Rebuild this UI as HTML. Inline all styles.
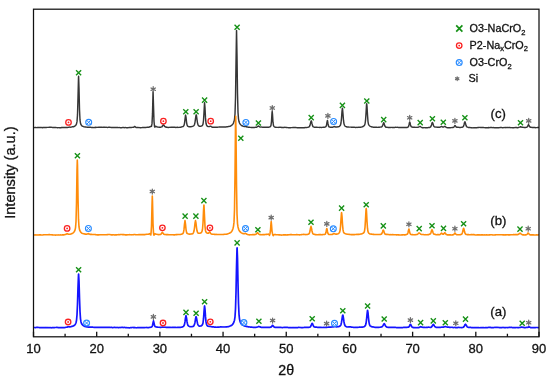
<!DOCTYPE html>
<html><head><meta charset="utf-8"><style>
html,body{margin:0;padding:0;background:#fff;}
body{width:550px;height:380px;overflow:hidden;}
svg{display:block;font-family:"Liberation Sans",Arial,sans-serif;}
text{stroke:#111;stroke-width:0.3px;paint-order:stroke;}
.gx{stroke:#159016;stroke-width:1.35;fill:none;}
.ro{stroke:#fa2222;stroke-width:1.3;fill:none;}
.rd{fill:#fa2222;}
.bo{stroke:#2a8cff;stroke-width:1.15;fill:none;}
.bx{stroke:#2a8cff;stroke-width:1.0;fill:none;}
.gs{stroke:#6e6e6e;stroke-width:1.25;fill:none;stroke-linecap:round;}
.tl{font-size:13px;text-anchor:middle;fill:#111;}
</style></head><body>
<svg width="550" height="380" viewBox="0 0 550 380">
<rect width="550" height="380" fill="#fff"/>
<path d="M33.50,127.51L34.00,127.58 34.50,127.64 35.00,127.58 35.50,127.58 36.00,127.57 36.50,127.60 37.00,127.65 37.50,127.56 38.00,127.47 38.50,127.55 39.00,127.54 39.50,127.59 40.00,127.49 40.50,127.49 41.00,127.54 41.50,127.49 42.00,127.59 42.50,127.67 43.00,127.56 43.50,127.47 44.00,127.49 44.50,127.58 45.00,127.56 45.50,127.50 46.00,127.49 46.50,127.41 47.00,127.37 47.50,127.38 48.00,127.40 48.50,127.36 49.00,127.33 49.50,127.30 50.00,127.32 50.50,127.31 51.00,127.24 51.50,127.34 52.00,127.38 52.50,127.43 53.00,127.38 53.50,127.49 54.00,127.57 54.50,127.49 55.00,127.46 55.50,127.51 56.00,127.55 56.50,127.63 57.00,127.60 57.50,127.66 58.00,127.67 58.50,127.61 59.00,127.61 59.50,127.67 60.00,127.72 60.50,127.69 61.00,127.68 61.50,127.56 62.00,127.49 62.50,127.54 63.00,127.51 63.50,127.43 64.00,127.44 64.50,127.47 65.00,127.49 65.50,127.44 66.00,127.42 66.50,127.40 67.00,127.44 67.50,127.41 68.00,127.36 68.50,127.33 69.00,127.20 69.50,127.09 70.00,127.11 70.50,127.17 71.00,127.13 71.50,127.04 72.00,126.90 72.50,126.81 73.00,126.80 73.50,126.70 74.00,126.51 74.50,126.33 75.00,125.93 75.50,125.48 76.00,124.91 76.50,123.88 77.00,121.67 77.50,114.90 78.00,97.50 78.50,77.34 78.60,76.32 79.00,88.04 79.50,109.51 80.00,119.95 80.50,123.32 81.00,124.67 81.50,125.40 82.00,125.90 82.50,126.23 83.00,126.39 83.50,126.66 84.00,126.82 84.50,126.87 85.00,126.97 85.50,127.05 86.00,127.08 86.50,127.11 87.00,127.17 87.50,127.24 88.00,127.29 88.50,127.31 89.00,127.24 89.50,127.22 90.00,127.19 90.50,127.24 91.00,127.35 91.50,127.43 92.00,127.50 92.50,127.56 93.00,127.51 93.50,127.58 94.00,127.61 94.50,127.51 95.00,127.42 95.50,127.33 96.00,127.41 96.50,127.37 97.00,127.31 97.50,127.36 98.00,127.35 98.50,127.29 99.00,127.25 99.50,127.29 100.00,127.26 100.50,127.24 101.00,127.32 101.50,127.34 102.00,127.33 102.50,127.35 103.00,127.28 103.50,127.29 104.00,127.30 104.50,127.27 105.00,127.23 105.50,127.34 106.00,127.37 106.50,127.34 107.00,127.38 107.50,127.47 108.00,127.38 108.50,127.31 109.00,127.26 109.50,127.34 110.00,127.30 110.50,127.37 111.00,127.43 111.50,127.45 112.00,127.41 112.50,127.52 113.00,127.59 113.50,127.59 114.00,127.53 114.50,127.56 115.00,127.54 115.50,127.56 116.00,127.52 116.50,127.55 117.00,127.46 117.50,127.43 118.00,127.54 118.50,127.62 119.00,127.57 119.50,127.64 120.00,127.59 120.50,127.68 121.00,127.71 121.50,127.67 122.00,127.61 122.50,127.50 123.00,127.59 123.50,127.49 124.00,127.56 124.50,127.65 125.00,127.65 125.50,127.57 126.00,127.64 126.50,127.72 127.00,127.74 127.50,127.72 128.00,127.67 128.50,127.62 129.00,127.55 129.50,127.58 130.00,127.56 130.50,127.49 131.00,127.41 131.50,127.44 132.00,127.40 132.50,127.39 133.00,127.34 133.50,127.33 134.00,127.13 134.50,126.57 134.70,126.44 135.00,126.57 135.50,127.14 136.00,127.42 136.50,127.45 137.00,127.42 137.50,127.47 138.00,127.54 138.50,127.63 139.00,127.58 139.50,127.65 140.00,127.66 140.50,127.63 141.00,127.71 141.50,127.62 142.00,127.64 142.50,127.53 143.00,127.45 143.50,127.52 144.00,127.44 144.50,127.48 145.00,127.47 145.50,127.51 146.00,127.44 146.50,127.37 147.00,127.28 147.50,127.31 148.00,127.26 148.50,127.26 149.00,127.22 149.50,126.98 150.00,126.78 150.50,126.44 151.00,126.44 151.50,126.38 152.00,123.63 152.50,113.66 153.00,92.95 153.10,91.67 153.50,105.41 154.00,121.34 154.50,126.30 154.70,127.08 155.00,127.04 155.50,126.32 156.00,126.41 156.50,126.72 157.00,126.89 157.50,127.08 158.00,127.14 158.50,127.14 159.00,127.23 159.50,127.31 160.00,127.20 160.50,127.22 161.00,127.10 161.50,126.92 162.00,126.72 162.50,125.99 163.00,125.06 163.40,124.80 163.50,124.82 164.00,125.47 164.50,126.27 165.00,126.74 165.50,127.03 166.00,127.06 166.50,127.21 167.00,127.23 167.50,127.36 168.00,127.46 168.50,127.42 169.00,127.38 169.50,127.39 170.00,127.31 170.50,127.36 171.00,127.28 171.50,127.20 172.00,127.32 172.50,127.29 173.00,127.32 173.50,127.32 174.00,127.29 174.50,127.21 175.00,127.31 175.50,127.41 176.00,127.49 176.50,127.39 177.00,127.31 177.50,127.33 178.00,127.41 178.50,127.38 179.00,127.38 179.50,127.37 180.00,127.27 180.50,127.22 181.00,127.11 181.50,126.98 182.00,126.80 182.50,126.63 183.00,126.55 183.50,126.20 184.00,125.42 184.50,123.33 185.00,119.27 185.50,115.32 185.60,115.12 186.00,117.20 186.50,121.79 187.00,124.76 187.50,126.01 188.00,126.39 188.50,126.56 189.00,126.68 189.50,126.77 190.00,126.82 190.50,126.78 191.00,126.67 191.50,126.60 192.00,126.47 192.50,126.40 193.00,126.20 193.50,125.91 194.00,125.52 194.50,124.47 195.00,122.34 195.50,118.71 196.00,115.32 196.20,114.82 196.50,115.75 197.00,119.57 197.50,122.86 198.00,124.86 198.50,125.62 199.00,126.02 199.50,126.26 200.00,126.36 200.50,126.29 201.00,126.12 201.50,125.96 202.00,125.76 202.50,125.21 203.00,124.11 203.50,120.49 204.00,112.24 204.50,103.17 204.60,102.76 205.00,107.93 205.50,117.91 206.00,123.29 206.50,125.19 207.00,125.93 207.50,126.33 208.00,126.49 208.50,126.62 209.00,126.61 209.50,126.57 210.00,126.36 210.50,126.14 211.00,126.33 211.50,126.80 212.00,127.07 212.50,127.17 213.00,127.22 213.50,127.31 214.00,127.31 214.50,127.30 215.00,127.27 215.50,127.23 216.00,127.14 216.50,127.19 217.00,127.19 217.50,127.21 218.00,127.13 218.50,127.11 219.00,127.06 219.50,127.00 220.00,126.97 220.50,127.06 221.00,127.05 221.50,127.04 222.00,127.07 222.50,127.01 223.00,126.92 223.50,126.93 224.00,126.93 224.50,126.95 225.00,126.92 225.50,126.93 226.00,126.94 226.50,126.84 227.00,126.79 227.50,126.72 228.00,126.60 228.50,126.50 229.00,126.41 229.50,126.36 230.00,126.28 230.50,126.03 231.00,125.81 231.50,125.40 232.00,124.93 232.50,124.44 233.00,123.85 233.50,122.84 234.00,121.54 234.50,119.34 235.00,113.99 235.50,98.33 236.00,63.42 236.50,30.91 236.55,30.56 237.00,54.90 237.50,93.04 238.00,112.22 238.50,118.85 239.00,121.52 239.50,122.99 240.00,123.89 240.50,124.54 241.00,125.01 241.50,125.43 242.00,125.79 242.50,125.95 243.00,126.18 243.50,126.39 244.00,126.47 244.50,126.54 245.00,126.46 245.50,126.45 245.80,126.36 246.00,126.51 246.50,126.77 247.00,126.97 247.50,127.01 248.00,127.15 248.50,127.27 249.00,127.22 249.50,127.29 250.00,127.37 250.50,127.40 251.00,127.44 251.50,127.42 252.00,127.49 252.50,127.57 253.00,127.52 253.50,127.56 254.00,127.51 254.50,127.42 255.00,127.36 255.50,127.26 256.00,127.30 256.50,127.29 257.00,126.98 257.50,126.65 258.00,126.24 258.30,126.07 258.50,126.08 259.00,126.39 259.50,126.83 260.00,126.98 260.50,127.06 261.00,127.12 261.50,127.07 262.00,127.14 262.50,127.20 263.00,127.29 263.50,127.24 264.00,127.21 264.50,127.23 265.00,127.20 265.50,127.22 266.00,127.17 266.50,127.20 267.00,127.24 267.50,127.27 268.00,127.31 268.50,127.23 269.00,127.12 269.50,127.03 270.00,126.84 270.50,126.44 271.00,125.35 271.50,121.27 272.00,112.77 272.20,111.27 272.50,114.37 273.00,122.45 273.50,125.58 274.00,126.49 274.50,126.87 275.00,127.16 275.50,127.19 276.00,127.27 276.50,127.35 277.00,127.35 277.50,127.38 278.00,127.38 278.50,127.41 279.00,127.32 279.50,127.34 280.00,127.35 280.50,127.34 281.00,127.34 281.50,127.42 282.00,127.47 282.50,127.47 283.00,127.51 283.50,127.49 284.00,127.43 284.50,127.34 285.00,127.32 285.50,127.37 286.00,127.46 286.50,127.53 287.00,127.54 287.50,127.63 288.00,127.61 288.50,127.67 289.00,127.63 289.50,127.67 290.00,127.75 290.50,127.68 291.00,127.60 291.50,127.61 292.00,127.61 292.50,127.57 293.00,127.46 293.50,127.45 294.00,127.44 294.50,127.43 295.00,127.51 295.50,127.53 296.00,127.57 296.50,127.65 297.00,127.68 297.50,127.65 298.00,127.68 298.50,127.69 299.00,127.69 299.50,127.69 300.00,127.65 300.50,127.65 301.00,127.65 301.50,127.72 302.00,127.74 302.50,127.77 303.00,127.78 303.50,127.79 304.00,127.76 304.50,127.67 305.00,127.58 305.50,127.58 306.00,127.60 306.50,127.55 307.00,127.41 307.50,127.40 308.00,127.30 308.50,127.16 309.00,126.86 309.50,126.40 310.00,125.34 310.50,123.28 311.00,121.12 311.20,120.88 311.50,121.36 312.00,123.65 312.50,125.60 313.00,126.57 313.50,126.92 314.00,127.12 314.50,127.23 315.00,127.23 315.50,127.22 316.00,127.34 316.50,127.32 317.00,127.25 317.50,127.35 318.00,127.37 318.50,127.35 319.00,127.36 319.50,127.41 320.00,127.34 320.50,127.38 321.00,127.42 321.50,127.46 322.00,127.39 322.50,127.39 323.00,127.31 323.50,127.29 324.00,127.17 324.50,127.17 325.00,127.14 325.50,126.94 326.00,126.48 326.50,125.25 327.00,122.24 327.40,120.51 327.50,120.54 328.00,123.63 328.50,126.00 329.00,126.76 329.50,126.98 330.00,127.15 330.50,127.26 331.00,127.22 331.50,127.25 332.00,127.16 332.50,127.21 333.00,127.04 333.50,126.83 334.00,126.57 334.20,126.52 334.50,126.52 335.00,126.80 335.50,126.93 336.00,126.95 336.50,127.00 337.00,126.94 337.50,126.93 338.00,126.78 338.50,126.71 339.00,126.58 339.50,126.29 340.00,125.82 340.50,125.00 341.00,122.96 341.50,118.23 342.00,111.28 342.40,108.16 342.50,108.43 343.00,114.18 343.50,120.47 344.00,123.87 344.50,125.35 345.00,126.01 345.50,126.43 346.00,126.67 346.50,126.79 347.00,126.97 347.50,126.98 348.00,127.09 348.50,127.06 349.00,127.10 349.50,127.14 350.00,127.15 350.50,127.12 351.00,127.10 351.50,127.21 352.00,127.22 352.50,127.26 353.00,127.21 353.50,127.28 354.00,127.25 354.50,127.28 355.00,127.37 355.50,127.46 356.00,127.34 356.50,127.39 357.00,127.44 357.50,127.37 358.00,127.32 358.50,127.31 359.00,127.35 359.50,127.28 360.00,127.30 360.50,127.28 361.00,127.13 361.50,127.12 362.00,126.90 362.50,126.69 363.00,126.55 363.50,126.23 364.00,125.87 364.50,125.25 365.00,123.99 365.50,120.69 366.00,113.53 366.50,104.93 366.70,103.69 367.00,106.26 367.50,115.11 368.00,121.52 368.50,124.27 369.00,125.27 369.50,125.71 370.00,126.09 370.50,126.39 371.00,126.61 371.50,126.82 372.00,126.96 372.50,127.01 373.00,127.10 373.50,127.25 374.00,127.30 374.50,127.27 375.00,127.20 375.50,127.31 376.00,127.34 376.50,127.32 377.00,127.34 377.50,127.35 378.00,127.35 378.50,127.25 379.00,127.21 379.50,127.18 380.00,127.10 380.50,127.14 381.00,127.05 381.50,126.95 382.00,126.67 382.50,125.91 383.00,124.47 383.50,122.95 383.70,122.69 384.00,123.20 384.50,124.79 385.00,126.22 385.50,126.96 386.00,127.29 386.50,127.30 387.00,127.28 387.50,127.39 388.00,127.41 388.50,127.41 389.00,127.53 389.50,127.44 390.00,127.46 390.50,127.46 391.00,127.39 391.50,127.39 392.00,127.45 392.50,127.53 393.00,127.44 393.50,127.45 394.00,127.38 394.50,127.46 395.00,127.38 395.50,127.30 396.00,127.31 396.50,127.38 397.00,127.36 397.50,127.30 398.00,127.39 398.50,127.46 399.00,127.54 399.50,127.49 400.00,127.48 400.50,127.43 401.00,127.44 401.50,127.41 402.00,127.38 402.50,127.44 403.00,127.53 403.50,127.53 404.00,127.43 404.50,127.45 405.00,127.41 405.50,127.48 406.00,127.48 406.50,127.48 407.00,127.43 407.50,127.30 408.00,127.12 408.50,126.49 409.00,124.71 409.50,122.30 409.70,121.92 410.00,122.63 410.50,124.92 411.00,126.35 411.50,126.91 412.00,127.01 412.50,127.19 413.00,127.29 413.50,127.29 414.00,127.29 414.50,127.29 415.00,127.28 415.50,127.35 416.00,127.36 416.50,127.37 417.00,127.30 417.50,127.37 418.00,127.30 418.50,127.16 419.00,126.88 419.50,126.68 420.00,126.40 420.20,126.46 420.50,126.61 421.00,126.99 421.50,127.33 422.00,127.57 422.50,127.71 423.00,127.76 423.50,127.66 424.00,127.65 424.50,127.64 425.00,127.71 425.50,127.73 426.00,127.73 426.50,127.73 427.00,127.65 427.50,127.68 428.00,127.65 428.50,127.55 429.00,127.47 429.50,127.46 430.00,127.32 430.50,126.97 431.00,126.25 431.50,124.97 432.00,123.13 432.40,122.41 432.50,122.39 433.00,123.82 433.50,125.58 434.00,126.49 434.50,126.85 435.00,127.04 435.50,127.10 436.00,127.09 436.50,127.11 437.00,127.19 437.50,127.23 438.00,127.17 438.50,127.11 439.00,127.21 439.50,127.24 440.00,127.12 440.50,127.02 441.00,126.61 441.50,126.37 442.00,126.67 442.50,127.01 443.00,127.09 443.50,127.06 444.00,126.75 444.50,126.39 444.80,126.35 445.00,126.37 445.50,126.81 446.00,127.20 446.50,127.49 447.00,127.62 447.50,127.67 448.00,127.72 448.50,127.80 449.00,127.72 449.50,127.63 450.00,127.66 450.50,127.68 451.00,127.65 451.50,127.61 452.00,127.55 452.50,127.58 453.00,127.56 453.50,127.42 454.00,126.93 454.50,126.19 455.00,125.54 455.50,126.08 456.00,126.82 456.50,127.23 457.00,127.24 457.50,127.22 458.00,127.21 458.50,127.31 459.00,127.37 459.50,127.45 460.00,127.43 460.50,127.41 461.00,127.37 461.50,127.31 462.00,127.23 462.50,127.16 463.00,126.95 463.50,126.22 464.00,124.76 464.50,122.65 464.90,121.73 465.00,121.78 465.50,123.42 466.00,125.35 466.50,126.56 467.00,126.96 467.50,127.19 468.00,127.38 468.50,127.48 469.00,127.52 469.50,127.51 470.00,127.51 470.50,127.61 471.00,127.69 471.50,127.71 472.00,127.77 472.50,127.83 473.00,127.87 473.50,127.81 474.00,127.78 474.50,127.81 475.00,127.76 475.50,127.78 476.00,127.75 476.50,127.70 477.00,127.68 477.50,127.59 478.00,127.56 478.50,127.54 479.00,127.45 479.50,127.40 480.00,127.37 480.50,127.47 481.00,127.50 481.50,127.46 482.00,127.58 482.50,127.53 483.00,127.54 483.50,127.59 484.00,127.63 484.50,127.61 485.00,127.66 485.50,127.65 486.00,127.68 486.50,127.67 487.00,127.75 487.50,127.77 488.00,127.67 488.50,127.58 489.00,127.68 489.50,127.61 490.00,127.51 490.50,127.47 491.00,127.48 491.50,127.58 492.00,127.56 492.50,127.61 493.00,127.67 493.50,127.58 494.00,127.60 494.50,127.70 495.00,127.70 495.50,127.69 496.00,127.65 496.50,127.73 497.00,127.80 497.50,127.70 498.00,127.69 498.50,127.66 499.00,127.69 499.50,127.60 500.00,127.55 500.50,127.51 501.00,127.51 501.50,127.58 502.00,127.65 502.50,127.70 503.00,127.72 503.50,127.62 504.00,127.59 504.50,127.63 505.00,127.58 505.50,127.58 506.00,127.66 506.50,127.57 507.00,127.64 507.50,127.56 508.00,127.54 508.50,127.62 509.00,127.55 509.50,127.56 510.00,127.54 510.50,127.62 511.00,127.71 511.50,127.65 512.00,127.64 512.50,127.71 513.00,127.70 513.50,127.62 514.00,127.66 514.50,127.61 515.00,127.59 515.50,127.48 516.00,127.58 516.50,127.59 517.00,127.66 517.50,127.71 518.00,127.59 518.50,127.51 519.00,127.34 519.50,127.17 520.00,126.98 520.50,126.79 521.00,126.84 521.50,127.10 522.00,127.27 522.50,127.32 523.00,127.33 523.50,127.38 524.00,127.42 524.50,127.51 525.00,127.50 525.50,127.49 526.00,127.37 526.50,127.29 527.00,127.07 527.50,126.60 528.00,125.47 528.50,124.56 529.00,125.41 529.50,126.51 530.00,127.01 530.50,127.23 531.00,127.25 531.50,127.39 532.00,127.46 532.50,127.49 533.00,127.42 533.50,127.41 534.00,127.47 534.50,127.51 535.00,127.59 535.50,127.67 536.00,127.62 536.50,127.61 537.00,127.58 537.50,127.50 538.00,127.44 538.50,127.41 539.00,127.35" fill="none" stroke="#363636" stroke-width="1.45" stroke-linejoin="round"/>
<path d="M33.50,234.96L34.00,235.04 34.50,234.93 35.00,234.84 35.50,234.91 36.00,234.95 36.50,234.97 37.00,234.92 37.50,234.93 38.00,234.95 38.50,234.95 39.00,234.87 39.50,234.86 40.00,234.83 40.50,234.88 41.00,234.98 41.50,235.05 42.00,235.04 42.50,235.00 43.00,234.94 43.50,234.83 44.00,234.74 44.50,234.74 45.00,234.72 45.50,234.71 46.00,234.80 46.50,234.81 47.00,234.82 47.50,234.77 48.00,234.68 48.50,234.66 49.00,234.61 49.50,234.64 50.00,234.76 50.50,234.80 51.00,234.74 51.50,234.82 52.00,234.88 52.50,234.91 53.00,234.98 53.50,235.01 54.00,235.04 54.50,234.98 55.00,235.05 55.50,235.10 56.00,234.99 56.50,235.01 57.00,235.02 57.50,234.98 58.00,234.95 58.50,234.92 59.00,234.98 59.50,234.94 60.00,234.97 60.50,234.90 61.00,234.94 61.50,234.98 62.00,234.92 62.50,234.88 63.00,234.92 63.50,234.90 64.00,234.84 64.50,234.71 65.00,234.59 65.50,234.49 66.00,234.19 66.50,233.96 67.00,233.66 67.10,233.72 67.50,233.74 68.00,234.05 68.50,234.24 69.00,234.29 69.50,234.26 70.00,234.21 70.50,234.12 71.00,233.94 71.50,233.72 72.00,233.53 72.50,233.37 73.00,233.07 73.50,232.55 74.00,232.05 74.50,231.28 75.00,230.13 75.50,227.81 76.00,221.71 76.50,203.24 77.00,170.60 77.30,160.08 77.50,165.02 78.00,197.40 78.50,219.17 79.00,226.94 79.50,229.65 80.00,230.94 80.50,231.75 81.00,232.44 81.50,232.87 82.00,233.25 82.50,233.41 83.00,233.59 83.50,233.69 84.00,233.87 84.50,233.90 85.00,234.09 85.50,234.07 86.00,234.17 86.50,234.10 87.00,234.01 87.50,233.96 88.00,233.73 88.40,233.63 88.50,233.70 89.00,233.88 89.50,234.05 90.00,234.34 90.50,234.38 91.00,234.35 91.50,234.38 92.00,234.46 92.50,234.55 93.00,234.50 93.50,234.50 94.00,234.44 94.50,234.48 95.00,234.57 95.50,234.65 96.00,234.75 96.50,234.80 97.00,234.88 97.50,234.91 98.00,234.89 98.50,234.83 99.00,234.86 99.50,234.82 100.00,234.74 100.50,234.74 101.00,234.82 101.50,234.75 102.00,234.78 102.50,234.76 103.00,234.77 103.50,234.71 104.00,234.81 104.50,234.77 105.00,234.80 105.50,234.79 106.00,234.70 106.50,234.72 107.00,234.67 107.50,234.60 108.00,234.53 108.50,234.50 109.00,234.46 109.50,234.54 110.00,234.57 110.50,234.70 111.00,234.81 111.50,234.91 112.00,234.85 112.50,234.84 113.00,234.79 113.50,234.81 114.00,234.84 114.50,234.90 115.00,234.94 115.50,234.88 116.00,234.86 116.50,234.86 117.00,234.76 117.50,234.68 118.00,234.68 118.50,234.62 119.00,234.69 119.50,234.66 120.00,234.60 120.50,234.57 121.00,234.55 121.50,234.53 122.00,234.57 122.50,234.59 123.00,234.59 123.50,234.64 124.00,234.61 124.50,234.72 125.00,234.83 125.50,234.87 126.00,234.85 126.50,234.85 127.00,234.87 127.50,234.77 128.00,234.76 128.50,234.77 129.00,234.72 129.50,234.65 130.00,234.73 130.50,234.71 131.00,234.72 131.50,234.81 132.00,234.83 132.50,234.76 133.00,234.82 133.50,234.69 134.00,234.48 134.20,234.51 134.50,234.46 135.00,234.54 135.50,234.71 136.00,234.78 136.50,234.69 137.00,234.70 137.50,234.69 138.00,234.70 138.50,234.65 139.00,234.68 139.50,234.60 140.00,234.58 140.50,234.57 141.00,234.67 141.50,234.59 142.00,234.65 142.50,234.59 143.00,234.61 143.50,234.58 144.00,234.57 144.50,234.62 145.00,234.58 145.50,234.48 146.00,234.38 146.50,234.27 147.00,234.31 147.50,234.29 148.00,234.29 148.50,234.20 149.00,233.91 149.50,233.69 150.00,233.66 150.50,234.84 150.80,234.93 151.00,233.82 151.50,226.29 152.00,205.84 152.30,196.05 152.50,200.97 153.00,223.47 153.50,232.96 153.80,235.00 154.00,235.17 154.50,233.97 155.00,233.82 155.50,234.00 156.00,234.18 156.50,234.25 157.00,234.33 157.50,234.43 158.00,234.55 158.50,234.58 159.00,234.65 159.50,234.54 160.00,234.47 160.50,234.48 161.00,234.14 161.50,233.56 162.00,232.68 162.40,232.27 162.50,232.40 163.00,233.14 163.50,233.92 164.00,234.28 164.50,234.43 165.00,234.47 165.50,234.56 166.00,234.63 166.50,234.64 167.00,234.66 167.50,234.60 168.00,234.62 168.50,234.73 169.00,234.78 169.50,234.69 170.00,234.70 170.50,234.74 171.00,234.69 171.50,234.77 172.00,234.75 172.50,234.78 173.00,234.75 173.50,234.83 174.00,234.87 174.50,234.85 175.00,234.75 175.50,234.71 176.00,234.60 176.50,234.60 177.00,234.66 177.50,234.57 178.00,234.54 178.50,234.51 179.00,234.45 179.50,234.45 180.00,234.48 180.50,234.43 181.00,234.31 181.50,234.27 182.00,234.04 182.50,233.82 183.00,233.38 183.50,232.27 184.00,229.42 184.50,224.19 185.00,220.62 185.50,224.12 186.00,229.26 186.50,232.20 187.00,233.30 187.50,233.60 188.00,233.79 188.50,233.95 189.00,234.08 189.50,234.13 190.00,234.18 190.50,234.03 191.00,234.06 191.50,234.00 192.00,233.86 192.50,233.73 193.00,233.44 193.50,232.61 194.00,231.02 194.50,227.83 195.00,223.25 195.50,220.66 196.00,223.24 196.50,227.59 197.00,230.80 197.50,232.29 198.00,232.96 198.50,233.20 199.00,233.25 199.50,233.28 200.00,233.22 200.50,233.02 201.00,232.86 201.50,232.35 202.00,231.44 202.50,229.26 203.00,222.96 203.50,211.04 203.90,204.97 204.00,205.43 204.50,216.32 205.00,226.37 205.50,230.64 206.00,232.09 206.50,232.64 207.00,232.95 207.50,233.25 208.00,233.28 208.50,233.18 209.00,232.66 209.50,231.92 209.70,231.87 210.00,232.22 210.50,233.21 211.00,233.80 211.50,234.04 212.00,234.16 212.50,234.23 213.00,234.25 213.50,234.20 214.00,234.27 214.50,234.40 215.00,234.40 215.50,234.43 216.00,234.42 216.50,234.42 217.00,234.51 217.50,234.47 218.00,234.50 218.50,234.50 219.00,234.50 219.50,234.57 220.00,234.47 220.50,234.52 221.00,234.46 221.50,234.47 222.00,234.51 222.50,234.50 223.00,234.44 223.50,234.47 224.00,234.33 224.50,234.32 225.00,234.24 225.50,234.19 226.00,234.19 226.50,234.17 227.00,234.09 227.50,233.93 228.00,233.75 228.50,233.59 229.00,233.36 229.50,233.12 230.00,232.96 230.50,232.55 231.00,232.22 231.50,231.66 232.00,230.93 232.50,229.93 233.00,228.48 233.50,226.36 234.00,222.13 234.50,209.83 235.00,175.17 235.50,124.06 235.70,116.23 236.00,132.81 236.50,184.64 237.00,213.84 237.50,223.53 238.00,226.98 238.50,228.86 239.00,230.08 239.50,231.04 240.00,231.68 240.50,232.16 241.00,232.62 241.50,232.87 242.00,233.19 242.50,233.40 243.00,233.52 243.50,233.68 244.00,233.64 244.50,233.61 245.00,233.49 245.50,233.38 246.00,233.62 246.50,234.02 247.00,234.30 247.50,234.47 248.00,234.60 248.50,234.70 249.00,234.75 249.50,234.84 250.00,234.77 250.50,234.78 251.00,234.80 251.50,234.75 252.00,234.71 252.50,234.63 253.00,234.71 253.50,234.66 254.00,234.63 254.50,234.67 255.00,234.55 255.50,234.53 256.00,234.21 256.50,233.67 257.00,233.07 257.50,232.72 258.00,233.15 258.50,233.81 259.00,234.30 259.50,234.51 260.00,234.61 260.50,234.60 261.00,234.69 261.50,234.68 262.00,234.65 262.50,234.68 263.00,234.61 263.50,234.58 264.00,234.68 264.50,234.59 265.00,234.52 265.50,234.46 266.00,234.42 266.50,234.40 267.00,234.34 267.50,234.28 268.00,234.19 268.50,234.12 269.00,234.68 269.50,235.37 270.00,233.71 270.50,230.22 271.00,223.02 271.20,221.55 271.50,224.51 272.00,231.11 272.50,233.68 273.00,235.32 273.20,235.68 273.50,235.44 274.00,234.51 274.50,234.49 275.00,234.57 275.50,234.60 276.00,234.74 276.50,234.74 277.00,234.75 277.50,234.78 278.00,234.75 278.50,234.83 279.00,234.85 279.50,234.87 280.00,234.87 280.50,234.96 281.00,235.04 281.50,235.08 282.00,235.04 282.50,235.00 283.00,234.98 283.50,234.87 284.00,234.79 284.50,234.89 285.00,234.81 285.50,234.90 286.00,234.92 286.50,235.00 287.00,234.89 287.50,234.84 288.00,234.90 288.50,234.79 289.00,234.72 289.50,234.70 290.00,234.65 290.50,234.60 291.00,234.66 291.50,234.59 292.00,234.72 292.50,234.76 293.00,234.67 293.50,234.77 294.00,234.72 294.50,234.73 295.00,234.75 295.50,234.68 296.00,234.70 296.50,234.62 297.00,234.58 297.50,234.69 298.00,234.76 298.50,234.77 299.00,234.80 299.50,234.87 300.00,234.78 300.50,234.78 301.00,234.69 301.50,234.62 302.00,234.55 302.50,234.50 303.00,234.43 303.50,234.40 304.00,234.39 304.50,234.43 305.00,234.51 305.50,234.58 306.00,234.59 306.50,234.54 307.00,234.57 307.50,234.41 308.00,234.22 308.50,234.12 309.00,233.81 309.50,232.92 310.00,231.05 310.50,228.15 311.00,226.34 311.50,228.14 312.00,231.00 312.50,232.91 313.00,233.80 313.50,234.15 314.00,234.30 314.50,234.36 315.00,234.49 315.50,234.64 316.00,234.61 316.50,234.68 317.00,234.73 317.50,234.77 318.00,234.67 318.50,234.69 319.00,234.63 319.50,234.57 320.00,234.60 320.50,234.63 321.00,234.65 321.50,234.69 322.00,234.71 322.50,234.67 323.00,234.54 323.50,234.55 324.00,234.55 324.50,234.51 325.00,234.35 325.50,233.80 326.00,232.30 326.50,229.39 326.80,228.46 327.00,228.94 327.50,231.72 328.00,233.55 328.50,234.20 329.00,234.44 329.50,234.50 330.00,234.49 330.50,234.45 331.00,234.51 331.50,234.52 332.00,234.41 332.50,234.34 333.00,234.07 333.50,233.68 334.00,233.44 334.50,233.63 335.00,233.91 335.50,234.14 336.00,234.12 336.50,234.14 337.00,234.01 337.50,233.97 338.00,233.74 338.50,233.46 339.00,233.11 339.50,232.41 340.00,230.79 340.50,226.84 341.00,219.41 341.50,212.91 341.60,212.69 342.00,216.28 342.50,224.30 343.00,229.68 343.50,232.03 344.00,232.96 344.50,233.37 345.00,233.60 345.50,233.81 346.00,233.91 346.50,234.04 347.00,234.16 347.50,234.20 348.00,234.21 348.50,234.30 349.00,234.43 349.50,234.41 350.00,234.47 350.50,234.53 351.00,234.62 351.50,234.67 352.00,234.63 352.50,234.57 353.00,234.65 353.50,234.60 354.00,234.51 354.50,234.59 355.00,234.53 355.50,234.49 356.00,234.46 356.50,234.41 357.00,234.46 357.50,234.41 358.00,234.39 358.50,234.36 359.00,234.40 359.50,234.26 360.00,234.24 360.50,234.10 361.00,233.96 361.50,233.90 362.00,233.75 362.50,233.49 363.00,233.28 363.50,233.01 364.00,232.43 364.50,231.03 365.00,227.35 365.50,219.42 366.00,209.94 366.20,208.61 366.50,211.45 367.00,221.41 367.50,228.45 368.00,231.58 368.50,232.80 369.00,233.35 369.50,233.72 370.00,233.95 370.50,234.05 371.00,234.12 371.50,234.14 372.00,234.26 372.50,234.26 373.00,234.35 373.50,234.38 374.00,234.41 374.50,234.55 375.00,234.54 375.50,234.56 376.00,234.55 376.50,234.50 377.00,234.46 377.50,234.48 378.00,234.55 378.50,234.46 379.00,234.55 379.50,234.56 380.00,234.42 380.50,234.40 381.00,234.27 381.50,234.01 382.00,233.27 382.50,231.96 383.00,230.34 383.30,229.99 383.50,230.20 384.00,231.77 384.50,233.27 385.00,233.99 385.50,234.23 386.00,234.38 386.50,234.39 387.00,234.39 387.50,234.42 388.00,234.49 388.50,234.56 389.00,234.62 389.50,234.74 390.00,234.67 390.50,234.70 391.00,234.63 391.50,234.69 392.00,234.69 392.50,234.64 393.00,234.62 393.50,234.68 394.00,234.69 394.50,234.79 395.00,234.76 395.50,234.74 396.00,234.83 396.50,234.85 397.00,234.76 397.50,234.83 398.00,234.79 398.50,234.88 399.00,234.90 399.50,234.94 400.00,235.00 400.50,234.97 401.00,235.04 401.50,234.91 402.00,234.85 402.50,234.90 403.00,234.77 403.50,234.79 404.00,234.86 404.50,234.86 405.00,234.88 405.50,234.72 406.00,234.65 406.50,234.57 407.00,234.37 407.50,233.91 408.00,232.70 408.50,230.27 408.90,228.97 409.00,229.09 409.50,231.31 410.00,233.34 410.50,234.21 411.00,234.43 411.50,234.63 412.00,234.59 412.50,234.58 413.00,234.68 413.50,234.77 414.00,234.75 414.50,234.83 415.00,234.73 415.50,234.74 416.00,234.63 416.50,234.54 417.00,234.42 417.50,234.17 418.00,233.86 418.50,233.40 419.00,232.95 419.20,232.96 419.50,232.99 420.00,233.50 420.50,233.98 421.00,234.27 421.50,234.52 422.00,234.51 422.50,234.55 423.00,234.57 423.50,234.57 424.00,234.69 424.50,234.71 425.00,234.71 425.50,234.69 426.00,234.67 426.50,234.75 427.00,234.78 427.50,234.77 428.00,234.65 428.50,234.62 429.00,234.47 429.50,234.34 430.00,234.04 430.50,233.59 431.00,232.55 431.50,230.80 432.00,229.69 432.50,230.75 433.00,232.51 433.50,233.64 434.00,234.14 434.50,234.30 435.00,234.35 435.50,234.48 436.00,234.62 436.50,234.70 437.00,234.73 437.50,234.63 438.00,234.59 438.50,234.65 439.00,234.72 439.50,234.66 440.00,234.53 440.50,234.20 441.00,233.51 441.50,233.10 442.00,233.45 442.50,234.08 443.00,234.28 443.50,234.15 444.00,233.62 444.50,232.92 444.80,232.73 445.00,232.90 445.50,233.61 446.00,234.22 446.50,234.55 447.00,234.76 447.50,234.85 448.00,234.89 448.50,234.98 449.00,234.88 449.50,234.89 450.00,234.90 450.50,234.87 451.00,234.94 451.50,234.99 452.00,234.92 452.50,234.88 453.00,234.85 453.50,234.72 454.00,234.25 454.50,233.51 454.90,233.05 455.00,232.99 455.50,233.70 456.00,234.36 456.50,234.59 457.00,234.66 457.50,234.77 458.00,234.82 458.50,234.76 459.00,234.81 459.50,234.76 460.00,234.66 460.50,234.60 461.00,234.52 461.50,234.34 462.00,233.80 462.50,232.52 463.00,230.29 463.50,228.33 463.60,228.24 464.00,229.14 464.50,231.56 465.00,233.19 465.50,234.00 466.00,234.36 466.50,234.43 467.00,234.59 467.50,234.61 468.00,234.58 468.50,234.64 469.00,234.66 469.50,234.77 470.00,234.77 470.50,234.70 471.00,234.63 471.50,234.56 472.00,234.60 472.50,234.67 473.00,234.61 473.50,234.60 474.00,234.63 474.50,234.74 475.00,234.85 475.50,234.93 476.00,234.95 476.50,234.95 477.00,234.89 477.50,234.91 478.00,234.83 478.50,234.80 479.00,234.87 479.50,234.89 480.00,234.93 480.50,234.92 481.00,234.87 481.50,234.87 482.00,234.88 482.50,234.83 483.00,234.91 483.50,235.00 484.00,234.92 484.50,234.86 485.00,234.93 485.50,234.96 486.00,234.90 486.50,234.91 487.00,234.86 487.50,234.93 488.00,234.94 488.50,234.94 489.00,234.86 489.50,234.85 490.00,234.84 490.50,234.82 491.00,234.76 491.50,234.72 492.00,234.78 492.50,234.87 493.00,234.94 493.50,234.96 494.00,235.01 494.50,234.92 495.00,234.86 495.50,234.90 496.00,234.80 496.50,234.72 497.00,234.80 497.50,234.75 498.00,234.70 498.50,234.70 499.00,234.79 499.50,234.70 500.00,234.80 500.50,234.77 501.00,234.80 501.50,234.80 502.00,234.73 502.50,234.84 503.00,234.78 503.50,234.85 504.00,234.93 504.50,234.91 505.00,235.00 505.50,234.90 506.00,234.82 506.50,234.83 507.00,234.74 507.50,234.82 508.00,234.83 508.50,234.89 509.00,234.85 509.50,234.75 510.00,234.84 510.50,234.78 511.00,234.77 511.50,234.71 512.00,234.74 512.50,234.74 513.00,234.69 513.50,234.61 514.00,234.60 514.50,234.67 515.00,234.61 515.50,234.57 516.00,234.60 516.50,234.63 517.00,234.67 517.50,234.64 518.00,234.58 518.50,234.28 519.00,234.02 519.50,233.53 520.00,233.27 520.50,233.39 521.00,233.84 521.50,234.20 522.00,234.52 522.50,234.74 523.00,234.88 523.50,234.90 524.00,234.87 524.50,234.95 525.00,234.96 525.50,234.86 526.00,234.83 526.50,234.64 527.00,234.33 527.50,233.80 528.00,233.08 528.20,233.04 528.50,233.32 529.00,234.03 529.50,234.56 530.00,234.83 530.50,234.91 531.00,234.92 531.50,234.89 532.00,234.81 532.50,234.85 533.00,234.95 533.50,234.86 534.00,234.93 534.50,235.01 535.00,234.96 535.50,235.02 536.00,234.94 536.50,234.89 537.00,234.90 537.50,234.98 538.00,234.97 538.50,234.88 539.00,234.97" fill="none" stroke="#ff8c0a" stroke-width="1.6" stroke-linejoin="round"/>
<path d="M33.50,327.51L34.00,327.52 34.50,327.50 35.00,327.53 35.50,327.56 36.00,327.47 36.50,327.38 37.00,327.47 37.50,327.43 38.00,327.39 38.50,327.51 39.00,327.51 39.50,327.58 40.00,327.57 40.50,327.60 41.00,327.52 41.50,327.55 42.00,327.62 42.50,327.61 43.00,327.65 43.50,327.67 44.00,327.57 44.50,327.61 45.00,327.62 45.50,327.57 46.00,327.47 46.50,327.55 47.00,327.54 47.50,327.58 48.00,327.65 48.50,327.67 49.00,327.74 49.50,327.69 50.00,327.72 50.50,327.69 51.00,327.75 51.50,327.79 52.00,327.67 52.50,327.58 53.00,327.51 53.50,327.60 54.00,327.57 54.50,327.58 55.00,327.52 55.50,327.51 56.00,327.48 56.50,327.44 57.00,327.46 57.50,327.47 58.00,327.54 58.50,327.55 59.00,327.62 59.50,327.66 60.00,327.72 60.50,327.70 61.00,327.59 61.50,327.62 62.00,327.67 62.50,327.70 63.00,327.66 63.50,327.64 64.00,327.52 64.50,327.54 65.00,327.49 65.50,327.39 66.00,327.23 66.50,327.23 67.00,327.21 67.50,326.95 68.00,326.88 68.10,326.83 68.50,326.75 69.00,326.76 69.50,326.84 70.00,326.89 70.50,326.72 71.00,326.65 71.50,326.45 72.00,326.37 72.50,326.18 73.00,326.06 73.50,325.91 74.00,325.59 74.50,325.28 75.00,324.70 75.50,323.87 76.00,322.73 76.50,320.32 77.00,314.99 77.50,304.11 78.00,287.59 78.50,274.67 78.60,274.13 79.00,280.96 79.50,297.92 80.00,311.51 80.50,318.82 81.00,321.99 81.50,323.46 82.00,324.32 82.50,324.94 83.00,325.39 83.50,325.73 84.00,326.02 84.50,326.32 85.00,326.48 85.50,326.59 86.00,326.75 86.50,326.78 87.00,326.82 87.50,326.99 88.00,327.05 88.50,327.10 89.00,327.04 89.50,327.07 90.00,327.13 90.50,327.07 91.00,327.13 91.50,327.20 92.00,327.14 92.50,327.20 93.00,327.22 93.50,327.28 94.00,327.27 94.50,327.34 95.00,327.40 95.50,327.31 96.00,327.24 96.50,327.31 97.00,327.42 97.50,327.38 98.00,327.38 98.50,327.41 99.00,327.39 99.50,327.37 100.00,327.35 100.50,327.34 101.00,327.38 101.50,327.35 102.00,327.35 102.50,327.42 103.00,327.34 103.50,327.37 104.00,327.44 104.50,327.41 105.00,327.37 105.50,327.45 106.00,327.40 106.50,327.35 107.00,327.36 107.50,327.42 108.00,327.35 108.50,327.34 109.00,327.33 109.50,327.42 110.00,327.42 110.50,327.51 111.00,327.44 111.50,327.42 112.00,327.47 112.50,327.55 113.00,327.54 113.50,327.49 114.00,327.42 114.50,327.44 115.00,327.39 115.50,327.47 116.00,327.54 116.50,327.48 117.00,327.44 117.50,327.52 118.00,327.55 118.50,327.61 119.00,327.57 119.50,327.49 120.00,327.46 120.50,327.53 121.00,327.48 121.50,327.46 122.00,327.46 122.50,327.45 123.00,327.44 123.50,327.54 124.00,327.47 124.50,327.38 125.00,327.49 125.50,327.57 126.00,327.67 126.50,327.64 127.00,327.72 127.50,327.78 128.00,327.70 128.50,327.73 129.00,327.78 129.50,327.78 130.00,327.76 130.50,327.69 131.00,327.64 131.50,327.57 132.00,327.48 132.50,327.51 133.00,327.47 133.50,327.54 134.00,327.45 134.50,327.54 135.00,327.58 135.50,327.66 136.00,327.72 136.50,327.78 137.00,327.77 137.50,327.64 138.00,327.68 138.50,327.59 139.00,327.55 139.50,327.58 140.00,327.57 140.50,327.55 141.00,327.63 141.50,327.64 142.00,327.59 142.50,327.53 143.00,327.60 143.50,327.58 144.00,327.63 144.50,327.58 145.00,327.50 145.50,327.50 146.00,327.56 146.50,327.47 147.00,327.52 147.50,327.59 148.00,327.62 148.50,327.64 149.00,327.49 149.50,327.47 150.00,327.48 150.50,327.31 151.00,327.16 151.50,326.97 152.00,326.63 152.50,325.53 153.00,322.98 153.50,320.91 154.00,322.94 154.50,325.40 155.00,326.43 155.50,326.73 156.00,326.83 156.50,327.05 157.00,327.20 157.50,327.17 158.00,327.23 158.50,327.23 159.00,327.23 159.50,327.23 160.00,327.30 160.50,327.33 161.00,327.32 161.50,327.26 162.00,327.21 162.50,327.12 163.00,327.13 163.50,327.23 164.00,327.27 164.50,327.23 165.00,327.21 165.50,327.23 166.00,327.28 166.50,327.36 167.00,327.35 167.50,327.42 168.00,327.45 168.50,327.44 169.00,327.41 169.50,327.42 170.00,327.46 170.50,327.44 171.00,327.48 171.50,327.46 172.00,327.40 172.50,327.41 173.00,327.45 173.50,327.35 174.00,327.34 174.50,327.32 175.00,327.40 175.50,327.47 176.00,327.42 176.50,327.48 177.00,327.51 177.50,327.42 178.00,327.38 178.50,327.27 179.00,327.30 179.50,327.29 180.00,327.32 180.50,327.31 181.00,327.26 181.50,327.21 182.00,327.09 182.50,326.86 183.00,326.69 183.50,326.29 184.00,325.63 184.50,324.35 185.00,321.63 185.50,317.89 186.00,315.68 186.50,317.90 187.00,321.49 187.50,324.01 188.00,325.42 188.50,325.92 189.00,326.26 189.50,326.44 190.00,326.60 190.50,326.72 191.00,326.73 191.50,326.76 192.00,326.60 192.50,326.56 193.00,326.41 193.50,326.18 194.00,325.53 194.50,324.38 195.00,322.24 195.50,319.05 196.00,316.78 196.10,316.71 196.50,317.90 197.00,320.87 197.50,323.41 198.00,324.89 198.50,325.63 199.00,325.98 199.50,326.07 200.00,326.07 200.50,326.01 201.00,325.88 201.50,325.67 202.00,325.26 202.50,324.59 203.00,322.99 203.50,318.94 204.00,312.09 204.50,306.18 204.60,306.01 205.00,309.20 205.50,316.63 206.00,321.91 206.50,324.40 207.00,325.44 207.50,325.99 208.00,326.19 208.50,326.27 209.00,326.40 209.50,326.45 210.00,326.38 210.30,326.36 210.50,326.45 211.00,326.58 211.50,326.74 212.00,326.83 212.50,326.94 213.00,326.96 213.50,326.95 214.00,327.03 214.50,327.15 215.00,327.12 215.50,327.17 216.00,327.16 216.50,327.24 217.00,327.25 217.50,327.19 218.00,327.13 218.50,327.04 219.00,327.05 219.50,327.03 220.00,326.97 220.50,326.95 221.00,326.92 221.50,326.98 222.00,326.91 222.50,327.01 223.00,326.98 223.50,326.98 224.00,326.95 224.50,326.98 225.00,327.00 225.50,326.95 226.00,326.88 226.50,326.86 227.00,326.84 227.50,326.72 228.00,326.66 228.50,326.63 229.00,326.47 229.50,326.25 230.00,326.01 230.50,325.84 231.00,325.62 231.50,325.40 232.00,325.08 232.50,324.54 233.00,323.87 233.50,323.03 234.00,321.87 234.50,320.19 235.00,316.80 235.50,308.96 236.00,292.58 236.50,267.83 237.00,248.49 237.10,247.76 237.50,257.90 238.00,283.27 238.50,303.40 239.00,314.32 239.50,319.08 240.00,321.27 240.50,322.58 241.00,323.50 241.50,324.06 242.00,324.55 242.50,324.94 243.00,325.26 243.50,325.45 244.00,325.66 244.50,325.92 245.00,326.08 245.50,326.28 246.00,326.35 246.50,326.44 247.00,326.58 247.50,326.59 248.00,326.75 248.50,326.90 249.00,326.87 249.50,327.01 250.00,327.02 250.50,327.11 251.00,327.18 251.50,327.16 252.00,327.21 252.50,327.25 253.00,327.32 253.50,327.27 254.00,327.32 254.50,327.41 255.00,327.43 255.50,327.41 256.00,327.30 256.50,327.25 257.00,327.13 257.50,327.02 258.00,326.82 258.50,326.60 258.90,326.45 259.00,326.48 259.50,326.67 260.00,326.85 260.50,327.14 261.00,327.30 261.50,327.29 262.00,327.41 262.50,327.35 263.00,327.34 263.50,327.39 264.00,327.42 264.50,327.44 265.00,327.47 265.50,327.45 266.00,327.41 266.50,327.35 267.00,327.27 267.50,327.32 268.00,327.38 268.50,327.38 269.00,327.42 269.50,327.37 270.00,327.29 270.50,327.21 271.00,327.16 271.50,326.70 272.00,325.99 272.50,325.27 272.60,325.31 273.00,325.66 273.50,326.44 274.00,326.95 274.50,327.18 275.00,327.32 275.50,327.34 276.00,327.44 276.50,327.38 277.00,327.35 277.50,327.30 278.00,327.25 278.50,327.34 279.00,327.41 279.50,327.36 280.00,327.32 280.50,327.33 281.00,327.40 281.50,327.48 282.00,327.53 282.50,327.55 283.00,327.48 283.50,327.46 284.00,327.41 284.50,327.43 285.00,327.45 285.50,327.40 286.00,327.37 286.50,327.44 287.00,327.36 287.50,327.44 288.00,327.53 288.50,327.62 289.00,327.59 289.50,327.59 290.00,327.60 290.50,327.62 291.00,327.70 291.50,327.72 292.00,327.66 292.50,327.71 293.00,327.69 293.50,327.69 294.00,327.71 294.50,327.59 295.00,327.64 295.50,327.66 296.00,327.64 296.50,327.63 297.00,327.61 297.50,327.53 298.00,327.54 298.50,327.44 299.00,327.45 299.50,327.48 300.00,327.47 300.50,327.49 301.00,327.58 301.50,327.64 302.00,327.55 302.50,327.60 303.00,327.60 303.50,327.49 304.00,327.46 304.50,327.40 305.00,327.31 305.50,327.32 306.00,327.41 306.50,327.36 307.00,327.41 307.50,327.42 308.00,327.31 308.50,327.33 309.00,327.28 309.50,327.26 310.00,327.08 310.50,326.66 311.00,325.76 311.50,324.54 312.00,323.48 312.20,323.39 312.50,323.63 313.00,324.89 313.50,326.05 314.00,326.70 314.50,326.97 315.00,327.06 315.50,327.10 316.00,327.11 316.50,327.17 317.00,327.26 317.50,327.30 318.00,327.32 318.50,327.37 319.00,327.35 319.50,327.36 320.00,327.43 320.50,327.42 321.00,327.37 321.50,327.46 322.00,327.51 322.50,327.48 323.00,327.46 323.50,327.46 324.00,327.49 324.50,327.43 325.00,327.33 325.50,327.29 326.00,327.37 326.50,327.31 327.00,327.31 327.50,327.27 328.00,327.23 328.50,327.18 329.00,327.19 329.50,327.15 330.00,327.08 330.50,327.03 331.00,327.00 331.50,327.03 332.00,326.96 332.50,326.87 333.00,326.85 333.50,326.78 334.00,326.76 334.50,326.64 335.00,326.68 335.50,326.76 336.00,326.75 336.50,326.90 337.00,326.85 337.50,326.76 338.00,326.72 338.50,326.60 339.00,326.55 339.50,326.38 340.00,326.08 340.50,325.53 341.00,324.56 341.50,322.43 342.00,319.16 342.50,315.72 342.80,315.02 343.00,315.36 343.50,318.45 344.00,321.96 344.50,324.42 345.00,325.68 345.50,326.23 346.00,326.44 346.50,326.67 347.00,326.90 347.50,327.02 348.00,326.99 348.50,326.96 349.00,326.94 349.50,326.94 350.00,326.91 350.50,326.89 351.00,326.99 351.50,327.12 352.00,327.09 352.50,327.23 353.00,327.24 353.50,327.32 354.00,327.41 354.50,327.49 355.00,327.38 355.50,327.34 356.00,327.35 356.50,327.44 357.00,327.33 357.50,327.28 358.00,327.34 358.50,327.24 359.00,327.21 359.50,327.16 360.00,327.17 360.50,327.23 361.00,327.12 361.50,327.12 362.00,327.10 362.50,327.08 363.00,326.97 363.50,326.92 364.00,326.70 364.50,326.43 365.00,325.99 365.50,325.29 366.00,323.57 366.50,319.99 367.00,314.56 367.50,310.44 367.60,310.31 368.00,312.53 368.50,318.01 369.00,322.37 369.50,324.63 370.00,325.72 370.50,326.10 371.00,326.38 371.50,326.63 372.00,326.81 372.50,326.84 373.00,326.88 373.50,327.03 374.00,327.12 374.50,327.24 375.00,327.34 375.50,327.34 376.00,327.43 376.50,327.47 377.00,327.43 377.50,327.39 378.00,327.30 378.50,327.28 379.00,327.37 379.50,327.27 380.00,327.26 380.50,327.16 381.00,327.04 381.50,327.01 382.00,326.81 382.50,326.38 383.00,325.64 383.50,324.67 384.00,323.80 384.20,323.61 384.50,323.83 385.00,324.97 385.50,325.92 386.00,326.58 386.50,326.89 387.00,327.11 387.50,327.22 388.00,327.33 388.50,327.37 389.00,327.34 389.50,327.30 390.00,327.25 390.50,327.35 391.00,327.29 391.50,327.23 392.00,327.36 392.50,327.32 393.00,327.42 393.50,327.35 394.00,327.37 394.50,327.33 395.00,327.42 395.50,327.45 396.00,327.49 396.50,327.55 397.00,327.62 397.50,327.58 398.00,327.59 398.50,327.57 399.00,327.49 399.50,327.56 400.00,327.57 400.50,327.62 401.00,327.55 401.50,327.55 402.00,327.53 402.50,327.57 403.00,327.48 403.50,327.44 404.00,327.44 404.50,327.35 405.00,327.36 405.50,327.41 406.00,327.38 406.50,327.39 407.00,327.38 407.50,327.28 408.00,327.19 408.50,327.14 409.00,326.73 409.50,325.94 410.00,324.76 410.40,324.25 410.50,324.24 411.00,325.21 411.50,326.29 412.00,326.97 412.50,327.32 413.00,327.43 413.50,327.55 414.00,327.57 414.50,327.55 415.00,327.64 415.50,327.70 416.00,327.76 416.50,327.72 417.00,327.73 417.50,327.66 418.00,327.70 418.50,327.68 419.00,327.47 419.50,327.32 420.00,326.97 420.50,326.70 420.60,326.72 421.00,326.75 421.50,326.97 422.00,327.22 422.50,327.27 423.00,327.41 423.50,327.41 424.00,327.42 424.50,327.40 425.00,327.46 425.50,327.51 426.00,327.46 426.50,327.38 427.00,327.34 427.50,327.33 428.00,327.24 428.50,327.18 429.00,327.24 429.50,327.27 430.00,327.33 430.50,327.36 431.00,327.30 431.50,326.99 432.00,326.37 432.50,325.48 433.00,324.60 433.30,324.40 433.50,324.50 434.00,325.26 434.50,326.23 435.00,326.78 435.50,327.09 436.00,327.31 436.50,327.43 437.00,327.42 437.50,327.39 438.00,327.47 438.50,327.38 439.00,327.32 439.50,327.35 440.00,327.37 440.50,327.31 441.00,327.23 441.50,327.18 442.00,327.23 442.50,327.19 443.00,327.20 443.50,327.11 444.00,327.00 444.50,326.70 445.00,326.54 445.50,326.54 446.00,326.75 446.50,326.94 447.00,327.03 447.50,327.17 448.00,327.17 448.50,327.20 449.00,327.20 449.50,327.30 450.00,327.32 450.50,327.30 451.00,327.24 451.50,327.26 452.00,327.32 452.50,327.38 453.00,327.48 453.50,327.55 454.00,327.49 454.50,327.42 455.00,327.49 455.50,327.55 456.00,327.54 456.50,327.60 457.00,327.60 457.50,327.54 458.00,327.46 458.50,327.36 459.00,327.40 459.50,327.48 460.00,327.54 460.50,327.51 461.00,327.51 461.50,327.55 462.00,327.56 462.50,327.50 463.00,327.35 463.50,327.12 464.00,326.58 464.50,325.71 465.00,324.72 465.50,324.26 466.00,324.81 466.50,325.80 467.00,326.57 467.50,327.01 468.00,327.28 468.50,327.36 469.00,327.51 469.50,327.46 470.00,327.44 470.50,327.47 471.00,327.47 471.50,327.55 472.00,327.62 472.50,327.70 473.00,327.71 473.50,327.60 474.00,327.61 474.50,327.62 475.00,327.61 475.50,327.56 476.00,327.61 476.50,327.68 477.00,327.59 477.50,327.62 478.00,327.59 478.50,327.59 479.00,327.67 479.50,327.75 480.00,327.76 480.50,327.68 481.00,327.75 481.50,327.66 482.00,327.63 482.50,327.69 483.00,327.64 483.50,327.59 484.00,327.68 484.50,327.75 485.00,327.70 485.50,327.66 486.00,327.61 486.50,327.53 487.00,327.49 487.50,327.60 488.00,327.51 488.50,327.46 489.00,327.42 489.50,327.35 490.00,327.39 490.50,327.46 491.00,327.54 491.50,327.57 492.00,327.64 492.50,327.53 493.00,327.50 493.50,327.60 494.00,327.51 494.50,327.47 495.00,327.48 495.50,327.45 496.00,327.47 496.50,327.40 497.00,327.37 497.50,327.48 498.00,327.43 498.50,327.53 499.00,327.47 499.50,327.58 500.00,327.62 500.50,327.64 501.00,327.56 501.50,327.48 502.00,327.54 502.50,327.48 503.00,327.43 503.50,327.52 504.00,327.60 504.50,327.51 505.00,327.61 505.50,327.61 506.00,327.58 506.50,327.51 507.00,327.49 507.50,327.60 508.00,327.55 508.50,327.48 509.00,327.42 509.50,327.37 510.00,327.36 510.50,327.47 511.00,327.40 511.50,327.36 512.00,327.47 512.50,327.58 513.00,327.68 513.50,327.61 514.00,327.58 514.50,327.66 515.00,327.65 515.50,327.68 516.00,327.62 516.50,327.52 517.00,327.49 517.50,327.54 518.00,327.59 518.50,327.58 519.00,327.55 519.50,327.52 520.00,327.44 520.50,327.35 521.00,327.30 521.50,327.11 522.00,327.07 522.50,327.20 523.00,327.37 523.50,327.40 524.00,327.57 524.50,327.68 525.00,327.61 525.50,327.57 526.00,327.50 526.50,327.41 527.00,327.49 527.50,327.40 528.00,327.35 528.50,327.10 529.00,326.91 529.50,327.10 530.00,327.33 530.50,327.55 531.00,327.64 531.50,327.66 532.00,327.72 532.50,327.62 533.00,327.63 533.50,327.61 534.00,327.54 534.50,327.57 535.00,327.53 535.50,327.54 536.00,327.52 536.50,327.50 537.00,327.48 537.50,327.51 538.00,327.62 538.50,327.70 539.00,327.76" fill="none" stroke="#1414ff" stroke-width="1.7" stroke-linejoin="round"/>
<path d="M76.05,70.25L81.15,75.35M76.05,75.35L81.15,70.25" class="gx"/>
<circle cx="68.50" cy="122.40" r="2.75" class="ro"/><circle cx="68.50" cy="122.40" r="0.9" class="rd"/>
<circle cx="88.70" cy="122.30" r="2.95" class="bo"/><path d="M86.60,120.20L90.80,124.40M86.60,124.40L90.80,120.20" class="bx"/>
<path d="M153.20,89.90L153.20,91.70M152.59,89.55L151.03,90.45M152.59,88.85L151.03,87.95M153.20,88.50L153.20,86.70M153.81,88.85L155.37,87.95M153.81,89.55L155.37,90.45" class="gs"/>
<circle cx="163.40" cy="121.20" r="2.75" class="ro"/><circle cx="163.40" cy="121.20" r="0.9" class="rd"/>
<path d="M183.25,109.25L188.35,114.35M183.25,114.35L188.35,109.25" class="gx"/>
<path d="M193.55,109.25L198.65,114.35M193.55,114.35L198.65,109.25" class="gx"/>
<path d="M202.05,97.55L207.15,102.65M202.05,102.65L207.15,97.55" class="gx"/>
<circle cx="210.70" cy="121.20" r="2.75" class="ro"/><circle cx="210.70" cy="121.20" r="0.9" class="rd"/>
<path d="M234.55,24.65L239.65,29.75M234.55,29.75L239.65,24.65" class="gx"/>
<circle cx="245.90" cy="122.40" r="2.95" class="bo"/><path d="M243.80,120.30L248.00,124.50M243.80,124.50L248.00,120.30" class="bx"/>
<path d="M255.85,120.45L260.95,125.55M255.85,125.55L260.95,120.45" class="gx"/>
<path d="M272.30,108.70L272.30,110.50M271.69,108.35L270.13,109.25M271.69,107.65L270.13,106.75M272.30,107.30L272.30,105.50M272.91,107.65L274.47,106.75M272.91,108.35L274.47,109.25" class="gs"/>
<path d="M308.65,115.05L313.75,120.15M308.65,120.15L313.75,115.05" class="gx"/>
<path d="M327.90,116.60L327.90,118.40M327.29,116.25L325.73,117.15M327.29,115.55L325.73,114.65M327.90,115.20L327.90,113.40M328.51,115.55L330.07,114.65M328.51,116.25L330.07,117.15" class="gs"/>
<circle cx="333.60" cy="121.40" r="2.95" class="bo"/><path d="M331.50,119.30L335.70,123.50M331.50,123.50L335.70,119.30" class="bx"/>
<path d="M339.85,102.85L344.95,107.95M339.85,107.95L344.95,102.85" class="gx"/>
<path d="M364.25,98.45L369.35,103.55M364.25,103.55L369.35,98.45" class="gx"/>
<path d="M381.15,117.05L386.25,122.15M381.15,122.15L386.25,117.05" class="gx"/>
<path d="M409.70,118.50L409.70,120.30M409.09,118.15L407.53,119.05M409.09,117.45L407.53,116.55M409.70,117.10L409.70,115.30M410.31,117.45L411.87,116.55M410.31,118.15L411.87,119.05" class="gs"/>
<path d="M417.65,120.05L422.75,125.15M417.65,125.15L422.75,120.05" class="gx"/>
<path d="M429.85,116.25L434.95,121.35M429.85,121.35L434.95,116.25" class="gx"/>
<path d="M440.75,119.65L445.85,124.75M440.75,124.75L445.85,119.65" class="gx"/>
<path d="M454.90,121.60L454.90,123.40M454.29,121.25L452.73,122.15M454.29,120.55L452.73,119.65M454.90,120.20L454.90,118.40M455.51,120.55L457.07,119.65M455.51,121.25L457.07,122.15" class="gs"/>
<path d="M462.35,115.25L467.45,120.35M462.35,120.35L467.45,115.25" class="gx"/>
<path d="M517.95,120.15L523.05,125.25M517.95,125.25L523.05,120.15" class="gx"/>
<path d="M528.70,121.60L528.70,123.40M528.09,121.25L526.53,122.15M528.09,120.55L526.53,119.65M528.70,120.20L528.70,118.40M529.31,120.55L530.87,119.65M529.31,121.25L530.87,122.15" class="gs"/>
<path d="M74.85,153.15L79.95,158.25M74.85,158.25L79.95,153.15" class="gx"/>
<circle cx="67.10" cy="228.40" r="2.75" class="ro"/><circle cx="67.10" cy="228.40" r="0.9" class="rd"/>
<circle cx="88.40" cy="228.40" r="2.95" class="bo"/><path d="M86.30,226.30L90.50,230.50M86.30,230.50L90.50,226.30" class="bx"/>
<path d="M152.30,192.20L152.30,194.00M151.69,191.85L150.13,192.75M151.69,191.15L150.13,190.25M152.30,190.80L152.30,189.00M152.91,191.15L154.47,190.25M152.91,191.85L154.47,192.75" class="gs"/>
<circle cx="162.40" cy="227.80" r="2.75" class="ro"/><circle cx="162.40" cy="227.80" r="0.9" class="rd"/>
<path d="M182.55,213.55L187.65,218.65M182.55,218.65L187.65,213.55" class="gx"/>
<path d="M193.35,213.55L198.45,218.65M193.35,218.65L198.45,213.55" class="gx"/>
<path d="M201.35,198.05L206.45,203.15M201.35,203.15L206.45,198.05" class="gx"/>
<circle cx="209.90" cy="227.80" r="2.75" class="ro"/><circle cx="209.90" cy="227.80" r="0.9" class="rd"/>
<path d="M238.25,135.65L243.35,140.75M238.25,140.75L243.35,135.65" class="gx"/>
<circle cx="245.50" cy="228.60" r="2.95" class="bo"/><path d="M243.40,226.50L247.60,230.70M243.40,230.70L247.60,226.50" class="bx"/>
<path d="M255.35,227.25L260.45,232.35M255.35,232.35L260.45,227.25" class="gx"/>
<path d="M271.20,218.30L271.20,220.10M270.59,217.95L269.03,218.85M270.59,217.25L269.03,216.35M271.20,216.90L271.20,215.10M271.81,217.25L273.37,216.35M271.81,217.95L273.37,218.85" class="gs"/>
<path d="M308.45,219.75L313.55,224.85M308.45,224.85L313.55,219.75" class="gx"/>
<path d="M326.80,224.60L326.80,226.40M326.19,224.25L324.63,225.15M326.19,223.55L324.63,222.65M326.80,223.20L326.80,221.40M327.41,223.55L328.97,222.65M327.41,224.25L328.97,225.15" class="gs"/>
<circle cx="333.30" cy="228.80" r="2.95" class="bo"/><path d="M331.20,226.70L335.40,230.90M331.20,230.90L335.40,226.70" class="bx"/>
<path d="M339.05,205.55L344.15,210.65M339.05,210.65L344.15,205.55" class="gx"/>
<path d="M363.65,202.15L368.75,207.25M363.65,207.25L368.75,202.15" class="gx"/>
<path d="M380.75,223.35L385.85,228.45M380.75,228.45L385.85,223.35" class="gx"/>
<path d="M408.90,225.00L408.90,226.80M408.29,224.65L406.73,225.55M408.29,223.95L406.73,223.05M408.90,223.60L408.90,221.80M409.51,223.95L411.07,223.05M409.51,224.65L411.07,225.55" class="gs"/>
<path d="M416.65,226.05L421.75,231.15M416.65,231.15L421.75,226.05" class="gx"/>
<path d="M429.45,223.15L434.55,228.25M429.45,228.25L434.55,223.15" class="gx"/>
<path d="M440.95,225.85L446.05,230.95M440.95,230.95L446.05,225.85" class="gx"/>
<path d="M454.90,229.40L454.90,231.20M454.29,229.05L452.73,229.95M454.29,228.35L452.73,227.45M454.90,228.00L454.90,226.20M455.51,228.35L457.07,227.45M455.51,229.05L457.07,229.95" class="gs"/>
<path d="M461.05,221.25L466.15,226.35M461.05,226.35L466.15,221.25" class="gx"/>
<path d="M517.45,226.55L522.55,231.65M517.45,231.65L522.55,226.55" class="gx"/>
<path d="M528.20,229.40L528.20,231.20M527.59,229.05L526.03,229.95M527.59,228.35L526.03,227.45M528.20,228.00L528.20,226.20M528.81,228.35L530.37,227.45M528.81,229.05L530.37,229.95" class="gs"/>
<path d="M76.05,267.15L81.15,272.25M76.05,272.25L81.15,267.15" class="gx"/>
<circle cx="68.10" cy="322.00" r="2.75" class="ro"/><circle cx="68.10" cy="322.00" r="0.9" class="rd"/>
<circle cx="86.60" cy="323.00" r="2.95" class="bo"/><path d="M84.50,320.90L88.70,325.10M84.50,325.10L88.70,320.90" class="bx"/>
<path d="M153.40,317.60L153.40,319.40M152.79,317.25L151.23,318.15M152.79,316.55L151.23,315.65M153.40,316.20L153.40,314.40M154.01,316.55L155.57,315.65M154.01,317.25L155.57,318.15" class="gs"/>
<circle cx="163.00" cy="323.00" r="2.75" class="ro"/><circle cx="163.00" cy="323.00" r="0.9" class="rd"/>
<path d="M183.45,309.85L188.55,314.95M183.45,314.95L188.55,309.85" class="gx"/>
<path d="M193.55,310.65L198.65,315.75M193.55,315.75L198.65,310.65" class="gx"/>
<path d="M202.05,299.25L207.15,304.35M202.05,304.35L207.15,299.25" class="gx"/>
<circle cx="210.30" cy="321.80" r="2.75" class="ro"/><circle cx="210.30" cy="321.80" r="0.9" class="rd"/>
<path d="M234.55,240.35L239.65,245.45M234.55,245.45L239.65,240.35" class="gx"/>
<circle cx="243.90" cy="322.60" r="2.95" class="bo"/><path d="M241.80,320.50L246.00,324.70M241.80,324.70L246.00,320.50" class="bx"/>
<path d="M256.35,318.75L261.45,323.85M256.35,323.85L261.45,318.75" class="gx"/>
<path d="M272.60,321.20L272.60,323.00M271.99,320.85L270.43,321.75M271.99,320.15L270.43,319.25M272.60,319.80L272.60,318.00M273.21,320.15L274.77,319.25M273.21,320.85L274.77,321.75" class="gs"/>
<path d="M309.65,316.25L314.75,321.35M309.65,321.35L314.75,316.25" class="gx"/>
<path d="M326.60,324.30L326.60,326.10M325.99,323.95L324.43,324.85M325.99,323.25L324.43,322.35M326.60,322.90L326.60,321.10M327.21,323.25L328.77,322.35M327.21,323.95L328.77,324.85" class="gs"/>
<circle cx="334.50" cy="323.40" r="2.95" class="bo"/><path d="M332.40,321.30L336.60,325.50M332.40,325.50L336.60,321.30" class="bx"/>
<path d="M340.25,308.25L345.35,313.35M340.25,313.35L345.35,308.25" class="gx"/>
<path d="M365.05,303.45L370.15,308.55M365.05,308.55L370.15,303.45" class="gx"/>
<path d="M381.65,316.45L386.75,321.55M381.65,321.55L386.75,316.45" class="gx"/>
<path d="M410.40,320.80L410.40,322.60M409.79,320.45L408.23,321.35M409.79,319.75L408.23,318.85M410.40,319.40L410.40,317.60M411.01,319.75L412.57,318.85M411.01,320.45L412.57,321.35" class="gs"/>
<path d="M418.05,320.05L423.15,325.15M418.05,325.15L423.15,320.05" class="gx"/>
<path d="M430.75,318.35L435.85,323.45M430.75,323.45L435.85,318.35" class="gx"/>
<path d="M442.75,320.25L447.85,325.35M442.75,325.35L447.85,320.25" class="gx"/>
<path d="M455.80,324.00L455.80,325.80M455.19,323.65L453.63,324.55M455.19,322.95L453.63,322.05M455.80,322.60L455.80,320.80M456.41,322.95L457.97,322.05M456.41,323.65L457.97,324.55" class="gs"/>
<path d="M462.95,316.55L468.05,321.65M462.95,321.65L468.05,316.55" class="gx"/>
<path d="M519.65,320.75L524.75,325.85M519.65,325.85L524.75,320.75" class="gx"/>
<path d="M528.70,323.40L528.70,325.20M528.09,323.05L526.53,323.95M528.09,322.35L526.53,321.45M528.70,322.00L528.70,320.20M529.31,322.35L530.87,321.45M529.31,323.05L530.87,323.95" class="gs"/>
<rect x="33.50" y="9.20" width="505.50" height="327.60" fill="none" stroke="#111" stroke-width="1.25"/>
<path d="M33.50,336.80V331.80M65.09,336.80V333.80M96.69,336.80V331.80M128.28,336.80V333.80M159.88,336.80V331.80M191.47,336.80V333.80M223.06,336.80V331.80M254.66,336.80V333.80M286.25,336.80V331.80M317.84,336.80V333.80M349.44,336.80V331.80M381.03,336.80V333.80M412.62,336.80V331.80M444.22,336.80V333.80M475.81,336.80V331.80M507.41,336.80V333.80M539.00,336.80V331.80" stroke="#111" stroke-width="1.3" fill="none"/>
<text x="33.50" y="352.5" class="tl">10</text>
<text x="96.69" y="352.5" class="tl">20</text>
<text x="159.88" y="352.5" class="tl">30</text>
<text x="223.06" y="352.5" class="tl">40</text>
<text x="286.25" y="352.5" class="tl">50</text>
<text x="349.44" y="352.5" class="tl">60</text>
<text x="412.62" y="352.5" class="tl">70</text>
<text x="475.81" y="352.5" class="tl">80</text>
<text x="539.00" y="352.5" class="tl">90</text>
<text x="286.2" y="374.5" style="font-size:14.2px;text-anchor:middle" fill="#111">2θ</text>
<text transform="translate(15.1,172.6) rotate(-90)" style="font-size:14.6px;text-anchor:middle" fill="#111">Intensity (a.u.)</text>
<text x="498.3" y="117.9" style="font-size:13.2px;text-anchor:middle" fill="#111">(c)</text>
<text x="498.3" y="225" style="font-size:13.2px;text-anchor:middle" fill="#111">(b)</text>
<text x="498.3" y="316.2" style="font-size:13.2px;text-anchor:middle" fill="#111">(a)</text>
<g style="font-size:10.8px" fill="#111">
<path d="M456.20,25.40L462.40,31.60M456.20,31.60L462.40,25.40" class="gx" style="stroke-width:1.7px"/>
<text x="469.6" y="32.1">O3-NaCrO<tspan dy="2.5" style="font-size:7.5px">2</tspan></text>
<circle cx="459.20" cy="45.60" r="2.75" class="ro"/><circle cx="459.20" cy="45.60" r="0.9" class="rd"/>
<text x="469.6" y="48.8">P2-Na<tspan dy="2.5" style="font-size:7.5px">x</tspan><tspan dy="-2.5">CrO</tspan><tspan dy="2.5" style="font-size:7.5px">2</tspan></text>
<circle cx="459.20" cy="62.60" r="2.95" class="bo"/><path d="M457.10,60.50L461.30,64.70M457.10,64.70L461.30,60.50" class="bx"/>
<text x="469.6" y="66.4">O3-CrO<tspan dy="2.5" style="font-size:7.5px">2</tspan></text>
<path d="M457.20,79.40L457.20,80.60M456.59,79.05L455.55,79.65M456.59,78.35L455.55,77.75M457.20,78.00L457.20,76.80M457.81,78.35L458.85,77.75M457.81,79.05L458.85,79.65" class="gs"/>
<text x="468.6" y="82.3">Si</text>
</g>
</svg>
</body></html>
